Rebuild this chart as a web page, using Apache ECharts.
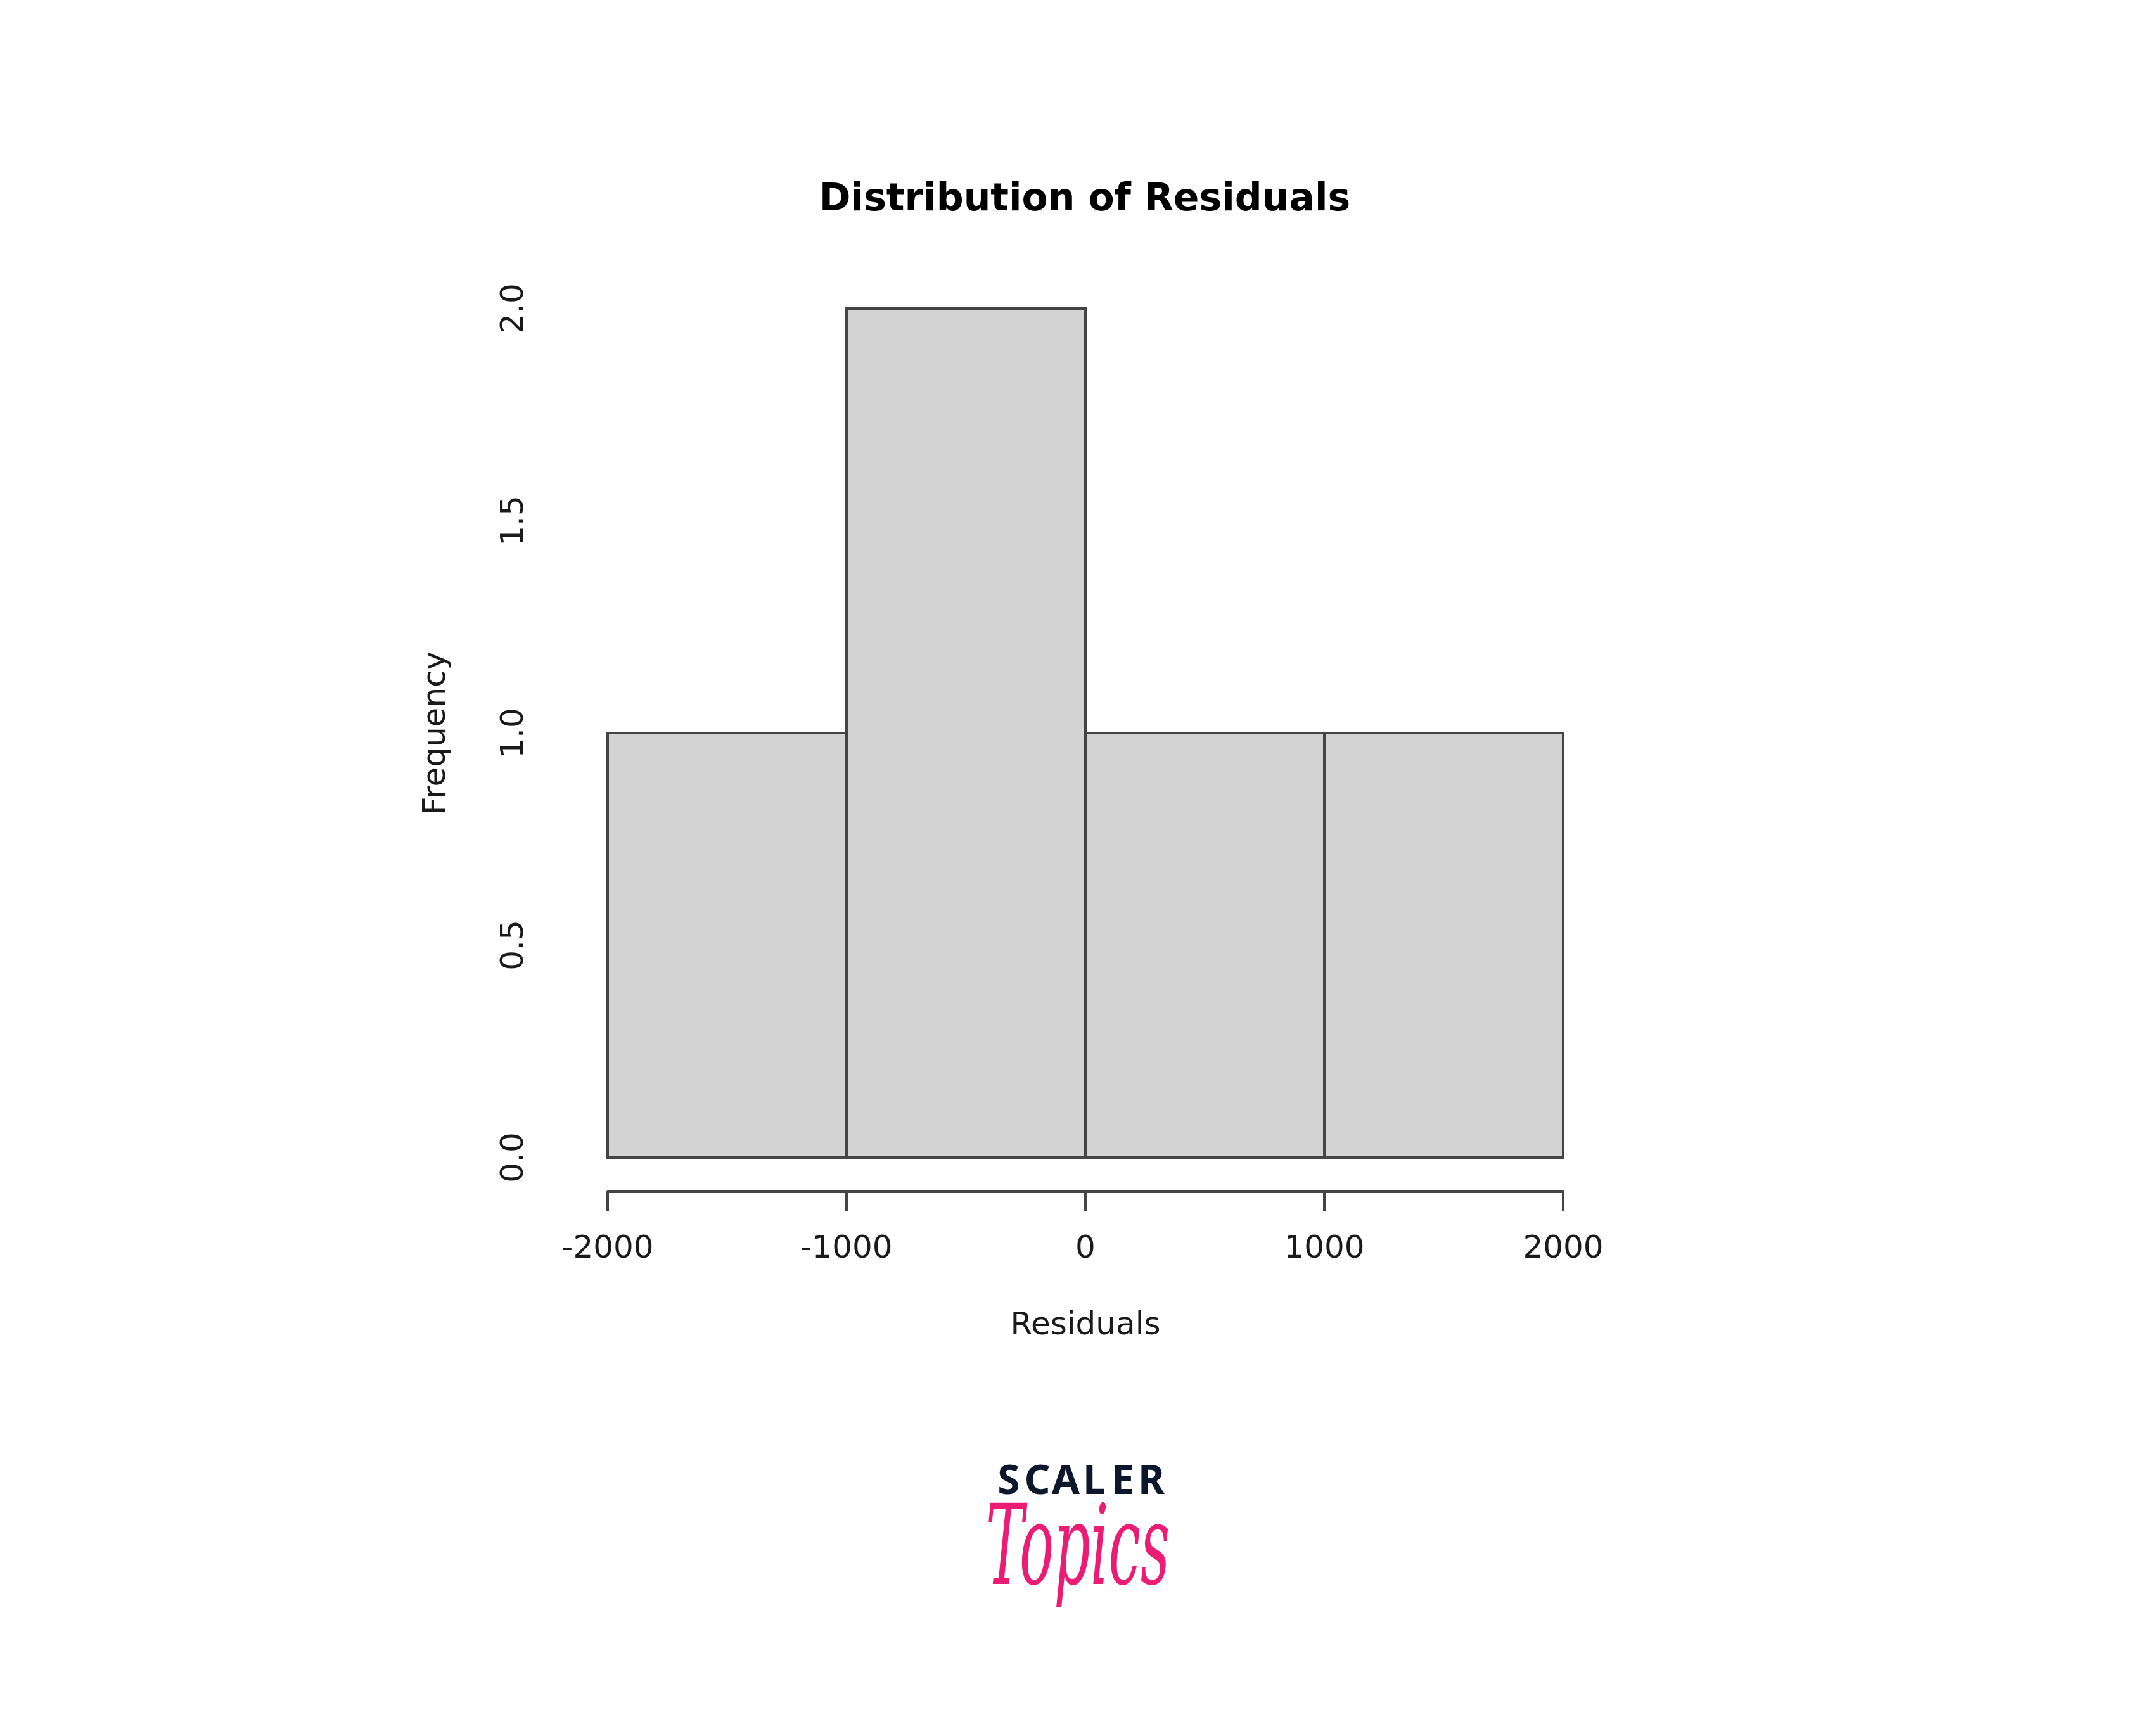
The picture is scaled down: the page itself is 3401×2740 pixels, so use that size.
<!DOCTYPE html>
<html>
<head>
<meta charset="utf-8">
<script src="https://cdn.jsdelivr.net/npm/echarts@6/dist/echarts.min.js"></script>
<style>
html,body{margin:0;padding:0;background:#fff;}
#chart{width:3401px;height:2740px;}
</style>
</head>
<body>
<div id="chart"></div>
<script>
// ---- data ----
const titleText = 'Distribution of Residuals';
const xAxisName = 'Residuals';
const yAxisName = 'Frequency';
const binStarts = [-2000, -1000, 0, 1000];
const binEnds = [-1000, 0, 1000, 2000];
const frequencies = [1, 2, 1, 1];
const xTickValues = [-2000, -1000, 0, 1000, 2000];
const yTickLabels = ['0.0', '0.5', '1.0', '1.5', '2.0'];
const logoTop = 'SCALER';
const logoBottom = 'Topics';

const histData = binStarts.map((s, i) => [s, binEnds[i], frequencies[i]]);

const chart = echarts.init(document.getElementById('chart'), null, {renderer: 'canvas'});
const FONT = 'DejaVu Sans';

// logo letters (decorative)
const logoLetters = logoTop.split('').map((ch, i) => ({
  type: 'text', x: 1592 + i * 45, y: 2340, z: 10,
  style: {text: ch, fontFamily: 'Noto Sans', fontWeight: 'bold', fontSize: 64,
          fill: '#0c172b', textAlign: 'center', textVerticalAlign: 'middle'}
}));

chart.setOption({
  backgroundColor: '#ffffff',
  animation: false,
  title: {
    text: titleText,
    left: 1707,
    top: 281,
    textAlign: 'center',
    textStyle: {fontFamily: FONT, fontWeight: 'bold', fontSize: 60, color: '#000'}
  },
  grid: {
    left: 959, top: 487, width: 1508, height: 1340,
    containLabel: false, outerBoundsMode: 'none'
  },
  xAxis: {
    type: 'value',
    min: xTickValues[0], max: xTickValues[xTickValues.length - 1], interval: 1000,
    offset: 54,
    name: xAxisName, nameLocation: 'middle', nameGap: 187,
    nameTextStyle: {fontFamily: FONT, fontSize: 50, color: '#1a1a1a'},
    axisLine: {show: true, onZero: false, lineStyle: {color: '#444', width: 4}},
    axisTick: {show: true, length: 31, lineStyle: {color: '#444', width: 4}},
    axisLabel: {margin: 66, fontFamily: FONT, fontSize: 50, color: '#1a1a1a',
                formatter: (v) => String(v)},
    splitLine: {show: false}
  },
  yAxis: {
    type: 'value',
    min: 0, max: 2, interval: 0.5,
    offset: 60,
    name: yAxisName, nameLocation: 'middle', nameGap: 185, nameRotate: 90,
    nameTextStyle: {fontFamily: FONT, fontSize: 50, color: '#1a1a1a'},
    axisLine: {show: true, lineStyle: {color: '#9a9a9a', width: 5}},
    axisTick: {show: true, length: 34, lineStyle: {color: '#8a8a8a', width: 4}},
    axisLabel: {
      margin: 62, rotate: 90, fontFamily: FONT, fontSize: 50, color: '#1a1a1a',
      formatter: (v) => yTickLabels[Math.round(v / 0.5)]
    },
    splitLine: {show: false}
  },
  series: [{
    type: 'custom',
    data: histData,
    encode: {x: [0, 1], y: 2},
    renderItem: (params, api) => {
      const p0 = api.coord([api.value(0), api.value(2)]);
      const p1 = api.coord([api.value(1), 0]);
      return {
        type: 'rect',
        shape: {x: p0[0], y: p0[1], width: p1[0] - p0[0], height: p1[1] - p0[1]},
        style: {fill: '#d3d3d3', stroke: '#444', lineWidth: 4}
      };
    }
  }],
  graphic: logoLetters.concat([
    {
      type: 'text', x: 1556, y: 2366, scaleX: 0.6, scaleY: 1.18, z: 10,
      style: {text: logoBottom, fontFamily: 'DejaVu Serif', fontStyle: 'italic', fontSize: 150,
              fill: '#ec1c74', textVerticalAlign: 'top'}
    }
  ])
});
</script>
</body>
</html>
